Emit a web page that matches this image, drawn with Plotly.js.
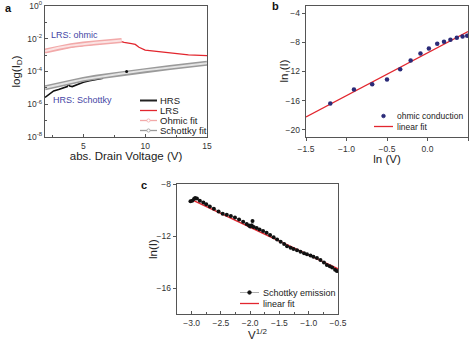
<!DOCTYPE html>
<html><head><meta charset="utf-8">
<script src="https://cdn.plot.ly/plotly-3.0.1.min.js"></script>
<style>html,body{margin:0;padding:0;background:#fff}#plot{width:474px;height:342px}</style>
</head><body><div id="plot"></div>
<script>
// ---- Panel a data ----
const lrsV = [1.9, 2.5, 3, 3.5, 4, 4.5, 5, 5.5, 6, 6.5, 7, 7.5, 8, 8.3, 8.6, 8.9, 9.2, 9.5, 10, 10.5, 11, 11.5, 12, 12.5, 13, 13.5, 14, 14.5, 15];
const lrsI = [1.6e-3, 2.0e-3, 2.4e-3, 2.8e-3, 3.2e-3, 3.6e-3, 4.0e-3, 4.4e-3, 4.9e-3, 5.4e-3, 5.9e-3, 6.5e-3, 7.0e-3, 6.0e-3, 5.2e-3, 5.0e-3, 4.5e-3, 3.0e-3, 2.0e-3, 1.8e-3, 1.6e-3, 1.45e-3, 1.3e-3, 1.2e-3, 1.12e-3, 1.05e-3, 1.0e-3, 0.95e-3, 0.92e-3];
const hrsV = [1.9, 2.2, 2.6, 3.0, 3.4, 3.7, 3.8, 3.9, 4.1, 4.5, 5.0, 5.5, 6.0, 6.6];
const hrsI = [2.6e-6, 4e-6, 6.5e-6, 8e-6, 1.0e-5, 1.2e-5, 1.9e-5, 1.3e-5, 1.2e-5, 1.6e-5, 2.2e-5, 2.7e-5, 3.2e-5, 3.9e-5];
const hrsExtraV = [8.5];
const hrsExtraI = [1.0e-4];
const ohmicV = [1.9, 3, 4, 5, 6, 7, 8.1];
const ohmicI = [1.8e-3, 2.85e-3, 3.8e-3, 4.75e-3, 5.7e-3, 6.65e-3, 7.7e-3];
const schV = [1.9, 3, 4, 5, 6, 8, 10, 12, 15];
const schI = [1.0e-5, 1.6e-5, 2.3e-5, 3.3e-5, 4.4e-5, 7.4e-5, 1.17e-4, 1.78e-4, 3.2e-4];
const aYTickVals = [1, 1e-2, 1e-4, 1e-6, 1e-8];
const aYTickText = ['10<sup>0</sup>', '10<sup>-2</sup>', '10<sup>-4</sup>', '10<sup>-6</sup>', '10<sup>-8</sup>'];

// ---- Panel b data ----
const bLnV = [-1.2, -0.908, -0.683, -0.5, -0.337, -0.208, -0.087, 0.017, 0.12, 0.204, 0.283, 0.362, 0.433, 0.49];
const bLnI = [-16.4, -14.48, -13.75, -13.1, -11.68, -10.5, -9.52, -8.83, -8.18, -7.9, -7.63, -7.36, -7.2, -7.08];
const bFitX = [-1.5, 0.5];
const bFitY = [-18.25, -6.5];

// ---- Panel c data ----
const cX = [-3.02,-2.99,-2.96,-2.94,-2.91,-2.86,-2.80,-2.75,-2.69,-2.62,-2.54,-2.47,-2.40,-2.33,-2.26,-2.19,-2.12,-2.06,-2.02,-2.00,-1.98,-1.96,-1.94,-1.89,-1.84,-1.78,-1.72,-1.66,-1.60,-1.54,-1.48,-1.42,-1.37,-1.31,-1.26,-1.20,-1.14,-1.08,-1.03,-0.97,-0.92,-0.86,-0.80,-0.74,-0.69,-0.64,-0.60,-0.55,-0.52];
const cY = [-9.32,-9.28,-9.15,-9.08,-9.12,-9.29,-9.42,-9.55,-9.73,-9.90,-10.12,-10.28,-10.37,-10.46,-10.58,-10.73,-10.91,-11.08,-11.20,-11.27,-11.20,-10.84,-11.30,-11.38,-11.50,-11.62,-11.75,-11.92,-12.10,-12.27,-12.45,-12.62,-12.78,-12.90,-13.00,-13.10,-13.21,-13.32,-13.41,-13.50,-13.59,-13.70,-13.85,-14.03,-14.23,-14.33,-14.43,-14.60,-14.69];
const cFitX = [-3.0, -0.5];
const cFitY = [-9.2, -14.53];

// ---- Legend entries ----
const legA = ['HRS', 'LRS', 'Ohmic fit', 'Schottky fit'];
const legB = ['ohmic conduction', 'linear fit'];
const legC = ['Schottky emission', 'linear fit'];

const W = 474, H = 342;
const px = v => v / W, py = v => 1 - v / H;
const FONT = 'Liberation Sans, Arial, sans-serif';
const RED = '#e2262e', PINK = '#f2a9a9', PINKIN = '#fbe3e3', GREY = '#9a9a9a', GREYIN = '#e4e4e4', NAVY = '#2b2b78', BLUE = '#4545a5';

const traces = [
  {x: lrsV, y: lrsI, xaxis: 'x', yaxis: 'y', mode: 'lines', line: {color: RED, width: 1.3}},
  {x: ohmicV, y: ohmicI, xaxis: 'x', yaxis: 'y', mode: 'lines', line: {color: PINK, width: 5}},
  {x: ohmicV, y: ohmicI, xaxis: 'x', yaxis: 'y', mode: 'lines', line: {color: PINKIN, width: 2}},
  {x: hrsV, y: hrsI, xaxis: 'x', yaxis: 'y', mode: 'lines', line: {color: '#111', width: 1.6}},
  {x: schV, y: schI, xaxis: 'x', yaxis: 'y', mode: 'lines', line: {color: GREY, width: 5}},
  {x: schV, y: schI, xaxis: 'x', yaxis: 'y', mode: 'lines', line: {color: GREYIN, width: 2}},
  {x: hrsExtraV, y: hrsExtraI, xaxis: 'x', yaxis: 'y', mode: 'markers', marker: {color: '#111', size: 3}},
  {x: bFitX, y: bFitY, xaxis: 'x2', yaxis: 'y2', mode: 'lines', line: {color: RED, width: 1.3}},
  {x: bLnV, y: bLnI, xaxis: 'x2', yaxis: 'y2', mode: 'markers', marker: {color: NAVY, size: 4.5}},
  {x: cFitX, y: cFitY, xaxis: 'x3', yaxis: 'y3', mode: 'lines', line: {color: RED, width: 1.6}},
  {x: cX, y: cY, xaxis: 'x3', yaxis: 'y3', mode: 'lines+markers', line: {color: '#777', width: 0.8}, marker: {color: '#111', size: 4}}
];
traces.forEach(t => { t.showlegend = false; t.hoverinfo = 'skip'; });

const axBase = {
  showline: true, mirror: true, linecolor: '#555', linewidth: 1.3, showgrid: false, zeroline: false,
  tickfont: {family: FONT, size: 8.5, color: '#333'}, ticklen: 3, tickcolor: '#555', tickwidth: 1,
  automargin: false
};
const titleFont = {family: FONT, size: 11.5, color: '#222'};

const shapes = [], annotations = [];
function lab(text, x, y, size, color, angle) {
  const a = {text, x: px(x), y: py(y), xref: 'paper', yref: 'paper', showarrow: false,
    xanchor: 'left', yanchor: 'middle', font: {family: FONT, size: size, color: color || '#222'}};
  if (angle) { a.textangle = angle; a.xanchor = 'center'; }
  annotations.push(a);
}
function seg(x0, x1, y, color, width) {
  shapes.push({type: 'line', xref: 'paper', yref: 'paper', x0: px(x0), x1: px(x1), y0: py(y), y1: py(y), line: {color, width}});
}
function dot(x, y, r, fill, lineColor) {
  shapes.push({type: 'circle', xref: 'paper', yref: 'paper', x0: px(x - r), x1: px(x + r), y0: py(y + r), y1: py(y - r),
    fillcolor: fill, line: {color: lineColor || fill, width: 0.8}});
}
// panel labels
lab('<b>a</b>', 3, 8, 11, '#111');
lab('<b>b</b>', 270, 6, 11, '#111');
lab('<b>c</b>', 139, 185, 11, '#111');
// y titles of panels b and c
lab('ln (I)', 284, 71.5, 11.5, '#222', -90);
lab('ln(I)', 153, 249, 11.5, '#222', -90);
// annotations in panel a
lab('LRS: ohmic', 49, 35, 9, BLUE);
lab('HRS: Schottky', 51, 99.5, 9, BLUE);
// legend a
const legAy = [100.5, 110.5, 120.5, 130.5];
seg(140, 157, legAy[0], '#222', 2);
seg(140, 157, legAy[1], RED, 1.3);
seg(140, 157, legAy[2], PINK, 1.3); dot(148.5, legAy[2], 1.6, '#fff', PINK);
seg(140, 157, legAy[3], GREY, 1.3); dot(148.5, legAy[3], 1.6, '#fff', GREY);
legA.forEach((t, i) => lab(t, 158, legAy[i], 9.5));
// legend b
dot(383.5, 116, 1.8, NAVY);
seg(374, 393, 126.5, RED, 1.3);
legB.forEach((t, i) => lab(t, 395, [116, 126.5][i], 8.5));
// legend c
seg(240, 259, 292.5, '#999', 0.8); dot(249.5, 292.5, 1.8, '#111');
seg(240, 259, 303.5, RED, 1.3);
legC.forEach((t, i) => lab(t, 261, [292.5, 303.5][i], 9));

const layout = {
  width: W, height: H, margin: {l: 0, r: 0, t: 0, b: 0}, paper_bgcolor: '#fff', plot_bgcolor: '#fff',
  showlegend: false, font: {family: FONT},
  xaxis: Object.assign({}, axBase, {domain: [px(45), px(207)], anchor: 'y', range: [1.9, 15], tickvals: [5, 10, 15], ticks: 'inside',
    minor: {ticks: 'inside', ticklen: 2, dtick: 2.5, tickcolor: '#555'},
    title: {text: 'abs. Drain Voltage (V)', font: titleFont, standoff: 2}}),
  yaxis: Object.assign({}, axBase, {domain: [py(137), py(6)], anchor: 'x', type: 'log', range: [-8, 0], tickvals: aYTickVals, ticktext: aYTickText, ticks: 'inside',
    minor: {ticks: 'inside', ticklen: 2, dtick: 1, tickcolor: '#555'},
    title: {text: 'log(I<sub>D</sub>)', font: titleFont, standoff: 4}}),
  xaxis2: Object.assign({}, axBase, {domain: [px(306), px(468)], anchor: 'y2', range: [-1.5, 0.5], dtick: 0.5, tickformat: '.1f', ticks: 'outside',
    title: {text: 'ln (V)', font: titleFont, standoff: 2}}),
  yaxis2: Object.assign({}, axBase, {domain: [py(137), py(6)], anchor: 'x2', range: [-21, -3], tickvals: [-20, -16, -12, -8, -4], ticks: 'outside'}),
  xaxis3: Object.assign({}, axBase, {domain: [px(177), px(338)], anchor: 'y3', range: [-3.25, -0.5], dtick: 0.5, tickformat: '.1f', ticks: 'inside',
    minor: {ticks: 'inside', ticklen: 2, dtick: 0.25, tickcolor: '#555'},
    title: {text: 'V<sup>1/2</sup>', font: titleFont, standoff: 2}}),
  yaxis3: Object.assign({}, axBase, {domain: [py(314), py(184)], anchor: 'x3', range: [-18, -8], tickvals: [-16, -12, -8], ticks: 'outside'}),
  shapes, annotations
};
Plotly.newPlot('plot', traces, layout, {staticPlot: true, displayModeBar: false});
</script></body></html>
